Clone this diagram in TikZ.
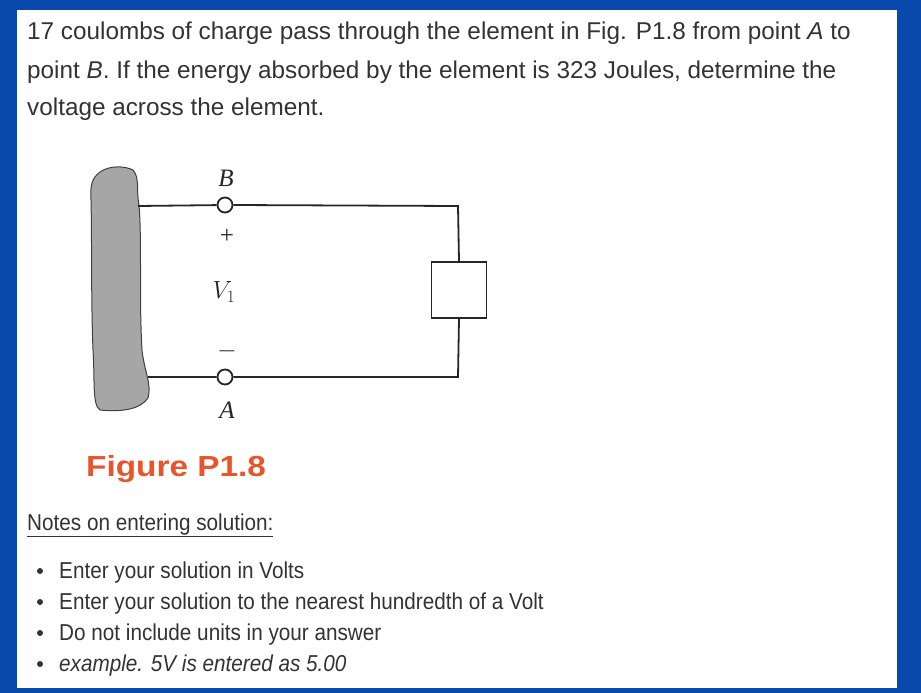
\documentclass[tikz,border=0pt]{standalone}
\usepackage{fontspec}
\setmainfont{Liberation Sans}
\newfontfamily\cond[FakeStretch=0.9]{Liberation Sans}
\newfontfamily\wide[FakeStretch=1.15]{Liberation Sans}
\newfontfamily\serifb{Liberation Serif}
\definecolor{bgblue}{HTML}{0A49AC}
\definecolor{txt}{HTML}{333333}
\definecolor{figor}{HTML}{E8552A}
\tikzset{wire/.style={line width=1.8pt,black!85},
 term/.style={circle,draw=black!85,line width=1.8pt,fill=white,minimum size=15pt,inner sep=0pt},
 lab/.style={font=\serifb\fontsize{25}{25}\selectfont,black!85},
 body/.style={anchor=base west,inner sep=0pt,font=\fontsize{24.3}{25}\selectfont,text=txt},
 note/.style={anchor=base west,inner sep=0pt,font=\cond\fontsize{23}{25}\selectfont,text=txt}}
\begin{document}
\begin{tikzpicture}[x=1pt,y=-1pt]
\useasboundingbox (0,0) rectangle (921,693);
\fill[bgblue] (0,0) rectangle (921,693);
\fill[white] (17,10) rectangle (897,688);
\node[body] (l1) at (27,40) {17 coulombs of charge pass through the element in Fig. P1.8 from point \textit{A} to};
\node[body] (l2) at (27,78) {point \textit{B}. If the energy absorbed by the element is 323 Joules, determine the};
\node[body] (l3) at (27,115) {voltage across the element.};
% blob
\filldraw[fill=black!35,draw=black!75,line width=1pt] (100,172) .. controls (110,165) and (125,166) .. (133,170)
 .. controls (140,178) and (136,190) .. (139,205) .. controls (142,240) and (139,300) .. (142,350)
 .. controls (144,370) and (152,385) .. (148,398) .. controls (140,410) and (120,412) .. (100,410)
 .. controls (92,405) and (95,380) .. (93,350) .. controls (91,300) and (92,240) .. (91,200)
 .. controls (90,185) and (92,178) .. (100,172) -- cycle;
\coordinate (bl) at (138,206);
\coordinate (al) at (148,377);
\coordinate (tr) at (458,206);
\coordinate (br) at (458,377);
\node[draw=black!85,line width=1.8pt,minimum width=55pt,minimum height=56pt,inner sep=0pt] (el) at (459,290) {};
\node[term] (B) at (225,205) {};
\node[term] (A) at (225,377) {};
\draw[wire] (bl) -- (B) (B.east) -- (tr) -- (el.north);
\draw[wire] (al) -- (A) (A.east) -- (br) -- (el.south);
\node[lab] (Bl) at (226,178) {\textit{B}};
\node[lab] (pl) at (227,236) {+};
\node[lab] (vl) at (224,292) {$V_1$};
\node[lab] (ml) at (227,351) {$-$};
\node[lab] (Al) at (227,410) {\textit{A}};
\node[anchor=base west,inner sep=0pt,font=\wide\bfseries\fontsize{29}{30}\selectfont,text=figor] (fig) at (86,476) {Figure P1.8};
\node[note] (n0) at (27,530) {\underline{Notes on entering solution:}};
\foreach \y/\t [count=\i] in {578/Enter your solution in Volts,609/Enter your solution to the nearest hundredth of a Volt,640/Do not include units in your answer,671/\textit{example. 5V is entered as 5.00}}{
 \fill[txt] (40,\y-7) circle (3pt);
 \node[note] (b\i) at (59,\y) {\t};
}
\end{tikzpicture}
\end{document}
